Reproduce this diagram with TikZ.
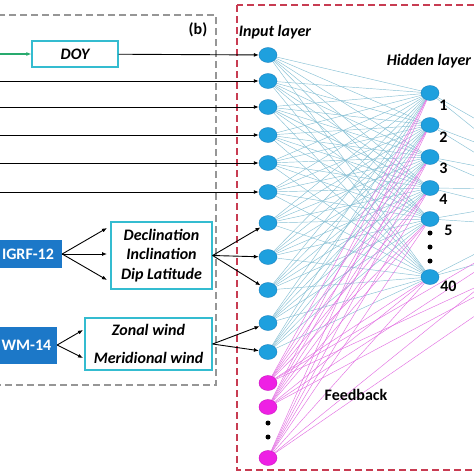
\documentclass[tikz,border=0pt]{standalone}
\usepackage{fontspec}
\setmainfont{Carlito}
\usetikzlibrary{positioning,shapes.geometric,arrows.meta,backgrounds}
\definecolor{neuronblue}{RGB}{30,160,222}
\definecolor{neuronedge}{RGB}{24,128,190}
\definecolor{fbmagenta}{RGB}{238,32,228}
\definecolor{fbedge}{RGB}{200,20,190}
\definecolor{netblue}{RGB}{135,192,212}
\definecolor{netpink}{RGB}{226,112,226}
\definecolor{boxcyan}{RGB}{52,188,208}
\definecolor{boxblue}{RGB}{28,120,200}
\definecolor{doygreen}{RGB}{40,170,110}
\definecolor{dashgrey}{RGB}{150,150,150}
\definecolor{dashred}{RGB}{200,60,82}

\begin{document}
\begin{tikzpicture}[
    x=1pt, y=-1pt,
    every node/.style={font=\fontsize{16}{19.5}\selectfont\bfseries},
    neuron/.style={ellipse, draw=neuronedge, fill=neuronblue, minimum width=18pt, minimum height=15pt, inner sep=0pt},
    fbneuron/.style={neuron, draw=fbedge, fill=fbmagenta},
    vdot/.style={circle, fill=black, minimum size=5pt, inner sep=0pt},
    outbox/.style={rectangle, draw=boxcyan, fill=white, line width=1.2pt, inner sep=0pt, align=center, font=\fontsize{16}{19.5}\selectfont\bfseries\itshape},
    srcbox/.style={rectangle, fill=boxblue, text=white, inner sep=0pt},
    numlabel/.style={inner sep=0pt},
    arrow/.style={-{Latex[length=5pt,width=4pt]}, line width=0.9pt, draw=black},
    netline/.style={draw=netblue, line width=0.45pt},
    fbline/.style={draw=netpink, line width=0.45pt},
    frame/.style={line width=1.3pt, dash pattern=on 7pt off 4pt}
]
    \useasboundingbox (0,0) rectangle (474,474);
    \clip (0,0) rectangle (474,474);

    % Frames
    \draw[frame, dashgrey] (-10,15) rectangle (216,385);
    \draw[frame, dashred] (237,5) rectangle (490,470);
    \node (tagb) at (198,30) {(b)};

    % Input layer
    \foreach \y [count=\i] in {55,81,107,135,163,192,223,257,290,323,352}
        \node[neuron] (in\i) at (268,\y) {};
    \node[fbneuron] (fb1) at (268,383) {};
    \node[fbneuron] (fb2) at (268,407) {};
    \node[fbneuron] (fb3) at (268,458) {};
    \node[vdot] (fbdot1) at (268,423) {};
    \node[vdot] (fbdot2) at (268,437) {};
    \node[font=\fontsize{16}{19.5}\selectfont\bfseries\itshape] (inlabel) at (275,32) {Input layer};

    % Hidden layer
    \foreach \y/\n in {93/1,125/2,157/3,188/4,219/5,277/40}
        \node[neuron] (h\n) at (430,\y) {};
    \foreach \n/\dy/\dx in {1/1.7/2.6,2/1.7/2.6,3/0.5/2.6,4/0.5/2.6,5/0.7/7.6,40/-1.3/3.6}
        \node[numlabel, below right=\dy pt and \dx pt of h\n] {\n};
    \node[vdot] (hdot1) at (430,233) {};
    \node[vdot] (hdot2) at (430,247) {};
    \node[vdot] (hdot3) at (430,261) {};
    \node[font=\fontsize{16}{19.5}\selectfont\bfseries\itshape] (hidlabel) at (429,61) {Hidden layer};
    \node (fblabel) at (356,395) {Feedback};

    % Output side (off the picture)
    \coordinate (outA) at (600,190);
    \coordinate (outB) at (600,230);

    % Connections of the network
    \begin{scope}[on background layer]
        \foreach \i in {1,...,11}
            \foreach \n in {1,2,3,4,5,40}
                \draw[netline] (in\i) -- (h\n);
        \foreach \n in {1,2,3,4,5,40} {
            \draw[netline] (h\n) -- (outA);
            \draw[netline] (h\n) -- (outB);
        }
        \foreach \f in {1,2,3} {
            \foreach \n in {1,2,3,4,5,40}
                \draw[fbline] (fb\f) -- (h\n);
            \draw[fbline] (fb\f) -- (outA);
            \draw[fbline] (fb\f) -- (outB);
        }
    \end{scope}

    % Inputs
    \coordinate (left) at (-5,0);
    \node[outbox, minimum width=86pt, minimum height=26pt] (doy) at (75,54) {DOY};
    \draw[arrow, draw=doygreen, line width=1.1pt] (left |- doy) -- (doy);
    \draw[arrow] (doy) -- (in1);
    \foreach \i in {2,...,6}
        \draw[arrow] (left |- in\i) -- (in\i);

    % IGRF-12
    \node[srcbox, minimum width=68pt, minimum height=28pt] (igrf) at (28,254) {IGRF-12};
    \node[outbox, minimum width=101pt, minimum height=67pt] (decl) at (161.5,255.5) {Declination\\Inclination\\Dip Latitude};
    \foreach \y [count=\k] in {228,254,280} {
        \coordinate (ig\k) at (107,\y);
        \draw[arrow] (igrf.east) -- (ig\k);
    }
    \foreach \i in {7,8,9}
        \draw[arrow] (decl.east) -- (in\i);

    % WM-14
    \node[srcbox, minimum width=61pt, minimum height=37pt] (hwm) at (26.5,345) {WM-14};
    \node[outbox, minimum width=127pt, minimum height=52pt] (wind) at (148.5,344) {Zonal wind\\[9pt]Meridional wind};
    \coordinate (wm1) at (83,330);
    \coordinate (wm2) at (83,358);
    \draw[arrow] (hwm.east) -- (wm1);
    \draw[arrow] (hwm.east) -- (wm2);
    \draw[arrow] (wind.east) -- (in10);
    \draw[arrow] (wind.east) -- (in11);

\end{tikzpicture}
\end{document}
